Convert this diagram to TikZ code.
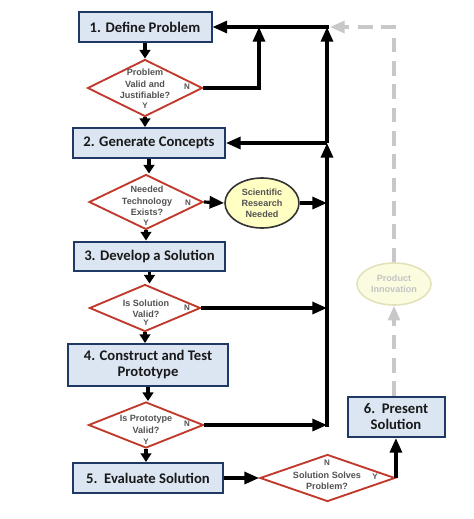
\documentclass[tikz,border=0pt]{standalone}
\usepackage{fontspec}
\setmainfont{Carlito}
\newfontfamily\diafont{Liberation Sans}
\usetikzlibrary{shapes.geometric,arrows.meta,calc}
\definecolor{boxfill}{HTML}{DCE6F2}
\definecolor{boxdraw}{HTML}{1F3864}
\definecolor{diared}{HTML}{C0392B}
\definecolor{ellfill}{HTML}{FFFFC4}
\definecolor{pifill}{HTML}{FBFBE0}
\definecolor{pidraw}{HTML}{E2E2BC}
\definecolor{pitext}{HTML}{C4C4C4}
\definecolor{dashgrey}{HTML}{C8C8C8}
\begin{document}
\begin{tikzpicture}[x=0.75pt,y=-0.75pt,
  stepbox/.style={draw=boxdraw, line width=1.5pt, fill=boxfill, text=black!90,
    font=\bfseries\fontsize{11pt}{12pt}\selectfont, align=center, inner sep=0pt},
  decision/.style={diamond, draw=diared, line width=1.4pt, fill=white, inner sep=0pt},
  dtext/.style={font=\diafont\bfseries\fontsize{6.8pt}{8.6pt}\selectfont, align=center, text=black!68, inner sep=0pt},
  yn/.style={font=\diafont\bfseries\fontsize{6pt}{7pt}\selectfont, text=black!68, inner sep=0pt},
  flow/.style={line width=2.4pt, -{Triangle[length=11pt,width=9pt]}},
  short/.style={line width=2.4pt, -{Triangle[length=6.5pt,width=8pt]}},
  gflow/.style={line width=2.4pt, draw=dashgrey, dash pattern=on 11pt off 6.5pt, -{Triangle[length=11pt,width=9pt]}},
]
\useasboundingbox (0,0) rectangle (474,519);

% process boxes
\node[stepbox, minimum width=99.75pt, minimum height=22.5pt] (b1) at (145,27) {1. Define Problem};
\node[stepbox, minimum width=114pt, minimum height=22.5pt] (b2) at (149,143) {2. Generate Concepts};
\node[stepbox, minimum width=113.25pt, minimum height=21.75pt] (b3) at (149.5,256) {3. Develop a Solution};
\node[stepbox, minimum width=120pt, minimum height=31.5pt] (b4) at (148,365) {4. Construct and Test\\Prototype};
\node[stepbox, minimum width=112.5pt, minimum height=22.5pt] (b5) at (148,478) {5.\ \ Evaluate Solution};
\node[stepbox, minimum width=72.75pt, minimum height=30pt] (b6) at (396,417) {6.\ \ Present\\Solution};

% decisions
\node[decision, minimum width=86.25pt, minimum height=42.75pt] (d1) at (145,88) {};
\node[decision, minimum width=85.5pt, minimum height=41.25pt] (d2) at (146,202) {};
\node[decision, minimum width=83.25pt, minimum height=35.25pt] (d3) at (145,308) {};
\node[decision, minimum width=86.25pt, minimum height=34.5pt] (d4) at (146,425) {};
\node[decision, minimum width=101.25pt, minimum height=35.25pt] (d5) at (327.5,478) {};

\node[dtext] (t1) at (145,84) {Problem\\Valid and\\Justifiable?};
\node[yn] (y1) at (145,106) {Y};
\node[yn] (n1) at (187,87) {N};
\node[dtext] (t2) at (147,201) {Needed\\Technology\\Exists?};
\node[yn] (y2) at (146,223) {Y};
\node[yn] (n2) at (188,203) {N};
\node[dtext] (t3) at (146,308.5) {Is Solution\\Valid?};
\node[yn] (y3) at (146,323) {Y};
\node[yn] (n3) at (187,308) {N};
\node[dtext] (t4) at (146,424.5) {Is Prototype\\Valid?};
\node[yn] (y4) at (146,442) {Y};
\node[yn] (n4) at (187,424) {N};
\node[dtext] (t5) at (327,481) {Solution Solves\\Problem?};
\node[yn] (n5) at (327,463) {N};
\node[yn] (y5) at (375,477) {Y};

% ellipses
\node[ellipse, draw=black!80, line width=1.2pt, fill=ellfill, minimum width=55.5pt, minimum height=37.5pt,
  inner sep=0pt, align=center, text=black!68, font=\diafont\bfseries\fontsize{6.8pt}{8.4pt}\selectfont] (sci) at (262,203) {Scientific\\Research\\Needed};
\node[ellipse, draw=pidraw, line width=1.2pt, fill=pifill, minimum width=55.5pt, minimum height=31.5pt,
  inner sep=0pt, align=center, text=pitext, font=\diafont\bfseries\fontsize{6.8pt}{8.4pt}\selectfont] (pi) at (394,284) {Product\\Innovation};

% junction points
\coordinate (jA) at (259,27);
\coordinate (top) at (327,27);
\coordinate (r2) at (327,143);
\coordinate (r3) at (327,203);
\coordinate (r4) at (327,308);
\coordinate (r5) at (327,425);
\coordinate (gend) at (330,27);

% grey dashed innovation loop
\draw[gflow] (b6.north -| pi.south) -- (pi.south);
\draw[gflow] (pi.north) |- (gend);

% main flow
\draw[short] (b1.south) -- (b1.south |- d1.north);
\draw[short] (d1.south) -- (d1.south |- b2.north);
\draw[short] (b2.south) -- (b2.south |- d2.north);
\draw[short] (d2.south) -- (d2.south |- b3.north);
\draw[short] (b3.south) -- (b3.south |- d3.north);
\draw[short] (d3.south) -- (d3.south |- b4.north);
\draw[short] (b4.south) -- (b4.south |- d4.north);
\draw[short] (d4.south) -- (d4.south |- b5.north);

% feedback loops
\draw[flow] (d1.east) -| (jA);
\draw[flow] ([xshift=1.2pt]top) -- (b1.east);
\draw[flow] (r2) -- (top);
\draw[flow] ([yshift=-1.2pt]r5) -- (r2);
\draw[flow] (r2) -- (b2.east);
\draw[flow] (d2.east) -- (sci.west);
\draw[flow] (sci.east) -- (r3);
\draw[flow] (d3.east) -- (r4);
\draw[flow] (d4.east) -- (r5);
\draw[flow] (b5.east) -- (d5.west);
\draw[flow] (d5.east) -- (d5.east |- b6.south);
\end{tikzpicture}
\end{document}
